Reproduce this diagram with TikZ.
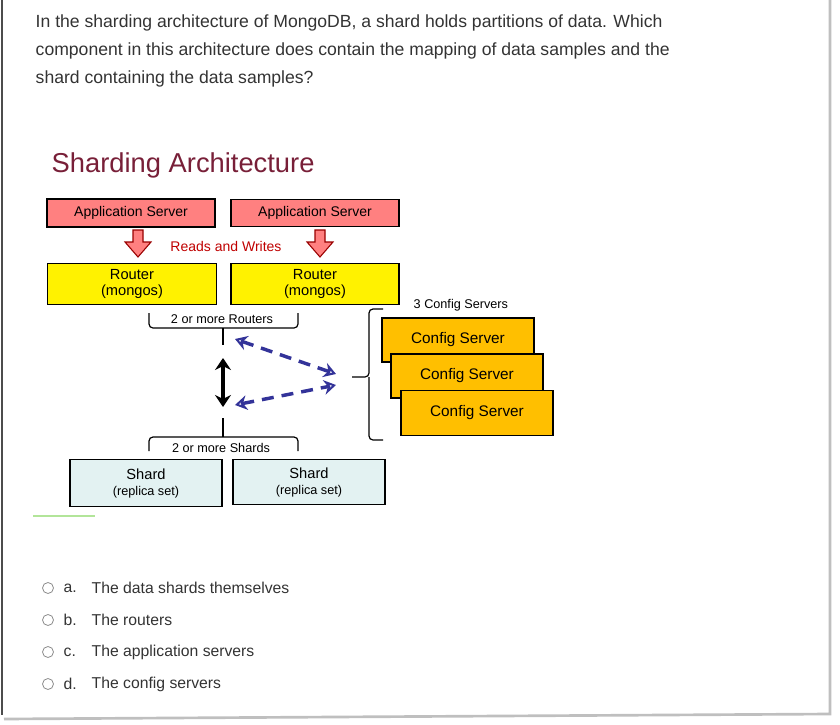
\documentclass[tikz,border=0pt]{standalone}
\usepackage{fontspec}
\setmainfont{Liberation Sans}
\usetikzlibrary{arrows.meta}
\definecolor{myMaroon}{rgb}{0.47,0.12,0.22}
\definecolor{myRed}{rgb}{1,0.5,0.5}
\definecolor{myOrange}{rgb}{1,0.75,0}
\definecolor{myCyan}{rgb}{0.89,0.95,0.95}
\definecolor{myBlue}{rgb}{0.2,0.2,0.6}
\definecolor{myText}{rgb}{0.2,0.2,0.2}
\tikzset{
  box/.style={draw=black, line width=1.2pt, inner sep=0pt, align=center, font=\fontsize{10.5}{12}\selectfont},
  downarrow/.style={draw=red!60!black, fill=myRed, line width=0.8pt},
  bracket/.style={line width=0.9pt, rounded corners=3pt},
  dasharrow/.style={myBlue, line width=2.6pt, dash pattern=on 9pt off 6pt, {Stealth[open,length=9pt,width=11pt,line width=2pt]}-{Stealth[open,length=9pt,width=11pt,line width=2pt]}},
  option/.style={anchor=west, text=myText, font=\fontsize{11.8}{13}\selectfont},
  question/.style={anchor=west, text=myText, font=\fontsize{13.2}{15}\selectfont},
}
\begin{document}
\begin{tikzpicture}[x=0.75pt, y=-0.75pt]
\useasboundingbox (0,0) rectangle (840,725);

%%%%%%%%%%%%%%%%%%%%%%%%%%%%%%%%%%%%%%%%%%%%%%%%%%%%%%%%%%%%%% Frame
\draw[black!70, line width=0.8pt] (2,0) -- (2,715);
\draw[black!25, line width=2pt] (830,0) -- (830,714) -- (4,719);

%%%%%%%%%%%%%%%%%%%%%%%%%%%%%%%%%%%%%%%%%%%%%%%%%%%%%%%%%%%%%% Question
\node[question] (q1) at (31,23) {In the sharding architecture of MongoDB, a shard holds partitions of data. Which};
\node[question] (q2) at (31,51) {component in this architecture does contain the mapping of data samples and the};
\node[question] (q3) at (31,79) {shard containing the data samples?};

\node[anchor=west, text=myMaroon, font=\fontsize{20.5}{24}\selectfont] (title) at (47,165) {Sharding Architecture};

%%%%%%%%%%%%%%%%%%%%%%%%%%%%%%%%%%%%%%%%%%%%%%%%%%%%%%%%%%%%%% Servers
\node[box, fill=myRed, minimum width=126pt, minimum height=21pt] (app1) at (131,213) {Application Server};
\node[box, fill=myRed, minimum width=126pt, minimum height=20pt] (app2) at (315,213) {Application Server};

% block arrows
\foreach \cx in {138,320}
  \draw[downarrow] (\cx-5,230) -- (\cx+5,230) -- (\cx+5,242) -- (\cx+13,242) -- (\cx,257) -- (\cx-13,242) -- (\cx-5,242) -- cycle;
\node[text=red!75!black, font=\fontsize{10.5}{12}\selectfont] (rw) at (226,246) {Reads and Writes};

\node[box, fill=yellow, minimum width=127pt, minimum height=31pt, font=\fontsize{11}{12}\selectfont] (rt1) at (132,284) {Router\\(mongos)};
\node[box, fill=yellow, minimum width=126pt, minimum height=31pt, font=\fontsize{11}{12}\selectfont] (rt2) at (315,284) {Router\\(mongos)};

\node[box, fill=myOrange, minimum width=114pt, minimum height=33pt, font=\fontsize{11.5}{13}\selectfont] (cfg1) at (458,340) {Config Server};
\node[box, fill=myOrange, minimum width=114pt, minimum height=33pt, font=\fontsize{11.5}{13}\selectfont] (cfg2) at (467,376) {Config Server};
\node[box, fill=myOrange, minimum width=114pt, minimum height=34pt, font=\fontsize{11.5}{13}\selectfont] (cfg3) at (477,413) {Config Server};
\node[anchor=west, font=\fontsize{9.5}{11}\selectfont] (cfglabel) at (409,305) {3 Config Servers};

\node[box, fill=myCyan, minimum width=114pt, minimum height=35pt, font=\fontsize{11}{12}\selectfont] (sh1) at (146,483) {Shard\\{\fontsize{9.5}{11}\selectfont(replica set)}};
\node[box, fill=myCyan, minimum width=114pt, minimum height=34pt, font=\fontsize{11}{12}\selectfont] (sh2) at (309,482) {Shard\\{\fontsize{9.5}{11}\selectfont(replica set)}};

%%%%%%%%%%%%%%%%%%%%%%%%%%%%%%%%%%%%%%%%%%%%%%%%%%%%%%%%%%%%%% Brackets
\draw[bracket] (149,313) -- (149,328) -- (223,328) -- (298,328) -- (298,313);
\draw[bracket] (223,328) -- (223,345);
\node[font=\fontsize{9.5}{11}\selectfont] (rtlabel) at (222,319) {2 or more Routers};
\draw[bracket] (149,451) -- (149,437) -- (223,437) -- (298,437) -- (298,451);
\draw[bracket] (223,437) -- (223,418);
\node[font=\fontsize{9.5}{11}\selectfont] (shlabel) at (221,448) {2 or more Shards};
\draw[bracket] (383,309) -- (369,309) -- (369,377) -- (352,377);
\draw[bracket] (369,377) -- (369,440) -- (383,440);

%%%%%%%%%%%%%%%%%%%%%%%%%%%%%%%%%%%%%%%%%%%%%%%%%%%%%%%%%%%%%% Arrows
\coordinate (up) at (223,358);
\coordinate (down) at (223,407);
\draw[line width=2.6pt, {Stealth[length=9pt,width=12pt]}-{Stealth[length=9pt,width=12pt]}] (up) -- (down);

\coordinate (rtend) at (235,339);
\coordinate (cfgup) at (336,374);
\coordinate (shend) at (235,405);
\coordinate (cfgdown) at (336,385);
\draw[dasharrow] (rtend) -- (cfgup);
\draw[dasharrow] (shend) -- (cfgdown);

\draw[green!50!olive!40, line width=2pt] (33,516) -- (95,516);

%%%%%%%%%%%%%%%%%%%%%%%%%%%%%%%%%%%%%%%%%%%%%%%%%%%%%%%%%%%%%% Options
\foreach \y/\l/\t in {588/a/The data shards themselves, 620/b/The routers, 652/c/The application servers, 684/d/The config servers}{
  \draw[black!45, line width=0.6pt] (48,\y) circle (5.5);
  \node[option] (opt\l) at (59,\y) {\l.};
  \node[option] (txt\l) at (87,\y) {\t};
}
\end{tikzpicture}
\end{document}
